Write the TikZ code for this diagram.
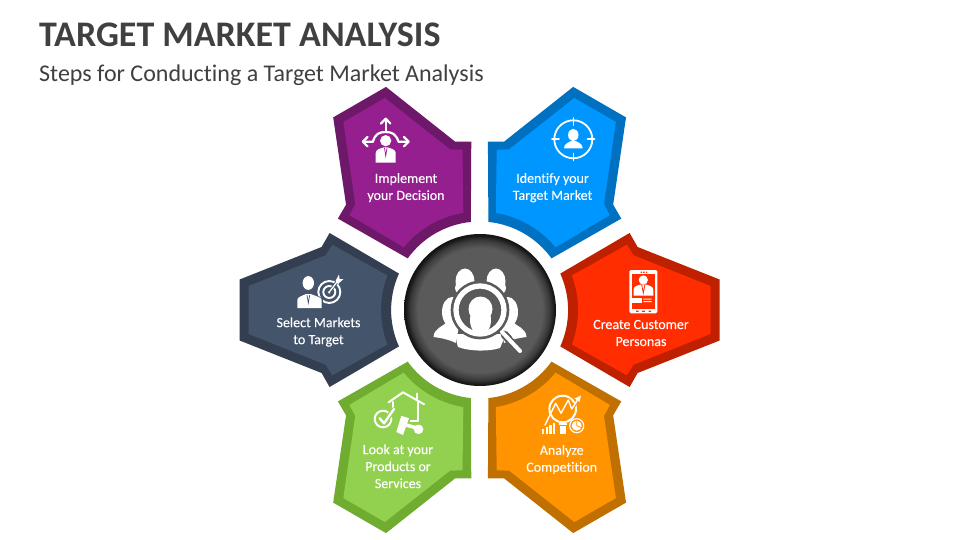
\documentclass[tikz,border=0pt]{standalone}
\usepackage{fontspec}
\setmainfont{Carlito}[Ligatures=NoCommon]
\newfontfamily\lblfont{Carlito}[Ligatures=NoCommon,FakeBold=0.12]
\definecolor{hubgray}{HTML}{5A5A5A}
\definecolor{hubmid}{HTML}{3A3A3A}
\definecolor{inkgray}{HTML}{404040}
\definecolor{purpleA}{HTML}{951F8E}\definecolor{purpleB}{HTML}{6D1868}
\definecolor{blueA}{HTML}{0096FF}\definecolor{blueB}{HTML}{0070C0}
\definecolor{redA}{HTML}{FF2D00}\definecolor{redB}{HTML}{BE2000}
\definecolor{navyA}{HTML}{44546A}\definecolor{navyB}{HTML}{333F50}
\definecolor{greenA}{HTML}{92D050}\definecolor{greenB}{HTML}{6FAC2F}
\definecolor{orangeA}{HTML}{FF9300}\definecolor{orangeB}{HTML}{BF7000}
\pgfdeclareradialshading{hubshade}{\pgfpoint{0bp}{0bp}}{color(0bp)=(hubgray); color(20.5bp)=(hubgray); color(23bp)=(hubmid); color(24.6bp)=(black!92); color(25bp)=(black!92); color(50bp)=(black!92)}
\tikzset{
  lbl/.style={text=white,align=center,inner sep=0pt,font=\lblfont\fontsize{14}{17}\selectfont},
  ico/.style={fill=white,draw=none},
  icl/.style={draw=white,line cap=round,line join=round,fill=none},
}
\newcommand{\petal}[3]{%
  \begin{scope}[shift={(479.6,310)},y=1pt,rotate=#1]
    \fill[#2] (24.3:88.5) -- (150,77) -- (158,63) -- (240,30.5) -- (240,-30.5) -- (158,-63) -- (150,-77) -- (-24.3:88.5) arc[start angle=-24.3,end angle=24.3,radius=88.5] -- cycle;
    \fill[#3] (20.5:98.5) -- (147.3,65.3) -- (154,54.7) -- (231,24) -- (231,-24) -- (154,-54.7) -- (147.3,-65.3) -- (-20.5:98.5) arc[start angle=-20.5,end angle=20.5,radius=98.5] -- cycle;
  \end{scope}}
\begin{document}
\begin{tikzpicture}[x=1pt,y=-1pt]
\useasboundingbox (0,0) rectangle (960,540);
\fill[white] (0,0) rectangle (960,540);
\node[anchor=base west,inner sep=0pt,text=inkgray,font=\fontsize{36}{36}\selectfont\bfseries] (title) at (39,46.2) {TARGET MARKET ANALYSIS};
\node[anchor=base west,inner sep=0pt,text=inkgray,font=\fontsize{24}{24}\selectfont] (subtitle) at (39,82) {Steps for Conducting a Target Market Analysis};
\petal{0}{redB}{redA}
\petal{60}{blueB}{blueA}
\petal{120}{purpleB}{purpleA}
\petal{180}{navyB}{navyA}
\petal{240}{greenB}{greenA}
\petal{300}{orangeB}{orangeA}
\node[circle,minimum size=152pt,inner sep=0pt,shading=hubshade] (hub) at (480,310) {};
% hub icon
\begin{scope}[shift={(480,310)},y=1pt]
  \fill[white] (-15,28.5) ellipse[x radius=9.5,y radius=13];
  \fill[white] (-15,22) ellipse[x radius=10,y radius=8];
  \fill[white] (16,28.5) ellipse[x radius=9.5,y radius=13];
  \fill[white] (16,22) ellipse[x radius=10,y radius=8];
  \fill[white] (-28,-2) ellipse[x radius=10,y radius=15];
  \fill[white] (-33,-12) .. controls (-36,-16) and (-46,-18) .. (-46.5,-27) .. controls (-38,-28) and (-30,-30) .. (-24,-33) -- (-20,-10) -- cycle;
  \fill[white] (28,-2) ellipse[x radius=10,y radius=15];
  \fill[white] (33,-12) .. controls (36,-16) and (46,-18) .. (46.5,-27) .. controls (38,-28) and (30,-30) .. (24,-33) -- (20,-10) -- cycle;
  \fill[white] (-23,-24) .. controls (-24,-30) and (-23,-34) .. (-22,-37) .. controls (-12,-41) and (8,-42) .. (20,-38) -- (26,-24) -- cycle;
  \fill[hubgray] (0,0) circle[radius=29.3];
  \draw[white,line width=5.3pt] (0,0) circle[radius=24];
  \fill[white] (0.5,1) ellipse[x radius=12,y radius=12.5];
  \fill[white] (0.5,-10) ellipse[x radius=10.5,y radius=15];
  \draw[hubgray,line width=8pt] (24,-24) -- (29,-29.5);
  \draw[hubgray,line width=7pt,line cap=round] (24,-24) -- (40,-41);
  \draw[white,line width=4pt,line cap=round] (22,-22) -- (40,-41);
\end{scope}
% purple icon
\fill[ico] (385.7,140.7) circle[radius=5.6];
\fill[ico] (375.7,162.7) -- (375.7,153) .. controls (375.7,149.5) and (380,148.5) .. (384,147.3) -- (387.5,147.3) .. controls (391,148.5) and (395.7,149.5) .. (395.7,153) -- (395.7,162.7) -- cycle;
\draw[purpleA,line width=0.7pt] (384.5,148) -- (385.7,156) -- (387,148);
\begin{scope}[icl,line width=2.2pt]
  \draw (363,141.7) -- (373,141.7) .. controls (375,134) and (379,132) .. (385.7,132) .. controls (392,132) and (396,134) .. (398.5,141.7) -- (408.5,141.7);
  \draw (385.7,132) -- (385.7,119);
  \draw (381,123.5) -- (385.7,118.7) -- (390.4,123.5);
  \draw (367.5,137) -- (362.8,141.7) -- (367.5,146.4);
  \draw (404,137) -- (408.7,141.7) -- (404,146.4);
\end{scope}
% blue icon
\draw[white,line width=1.8pt] (573.3,139.3) circle[radius=19];
\draw[icl,line width=1.6pt] (573.3,118) -- (573.3,125) (573.3,153.5) -- (573.3,160.5) (552,139.3) -- (559,139.3) (587.5,139.3) -- (594.5,139.3);
\fill[ico] (573.3,135) ellipse[x radius=5.2,y radius=6.2];
\fill[ico] (564,148.3) .. controls (564,144) and (568,142.5) .. (571,141) -- (575.5,141) .. controls (578.5,142.5) and (582.7,144) .. (582.7,148.3) -- cycle;
% navy icon
\draw[white,line width=1.9pt] (329.3,292) circle[radius=11];
\draw[white,line width=1.9pt] (329.3,292) circle[radius=6];
\fill[ico] (329.3,292) circle[radius=1.8];
\draw[navyA,line width=3pt] (329.3,292) -- (338.5,280);
\draw[icl,line width=1.3pt] (329.3,292) -- (338.5,280);
\fill[ico] (335.5,281) -- (339,274.5) -- (339.5,278.5) -- (339.5,279.2) -- (343.5,279) -- (338,284) -- cycle;
\fill[navyA] (308.3,283) ellipse[x radius=7.2,y radius=8.2];
\fill[navyA] (295.5,309) -- (295.5,299) -- (303,292.5) -- (313.5,292.5) -- (323,299) -- (323,309) -- cycle;
\fill[ico] (308.3,283) ellipse[x radius=5.7,y radius=6.9];
\fill[ico] (297.3,308) -- (297.3,300) .. controls (297.3,297) and (302,296) .. (306,294) -- (310.5,294) .. controls (315,296) and (321.7,297) .. (321.7,300) -- (321.7,308) -- cycle;
\draw[navyA,line width=0.7pt] (307,295) -- (308.3,303) -- (309.7,295);
% green icon
\draw[icl,line width=2pt] (388.7,402.3) -- (403,392.3) -- (424,404.3);
\draw[icl,line width=2pt] (417,393.5) -- (417,399);
\draw[icl,line width=2pt] (393,402) -- (393,407);
\draw[icl,line width=2pt] (418,402) -- (418,421) -- (410.5,421);
\draw[white,line width=2pt] (383,419) circle[radius=8.3];
\draw[greenA,line width=5pt,line join=round] (379.7,418.3) -- (384,423.3) -- (394,409);
\draw[icl,line width=2.4pt] (379.7,418.3) -- (384,423.3) -- (394,409);
\fill[greenA] (400,413) -- (411,417) -- (404,437) -- (394,433) -- cycle;
\fill[ico] (401.3,415.7) -- (409,418.3) -- (403,435) -- (396.3,432) -- cycle;
\draw[icl,line width=3.5pt] (406.3,425) -- (418,428.3);
\fill[ico] (418.5,429.3) circle[radius=4.8];
% orange icon
\draw[white,line width=2pt] (562.7,409) circle[radius=13.3];
\draw[orangeA,line width=3.6pt,line join=round] (552,410) -- (555.7,403.3) -- (561,413.3) -- (568.3,400) -- (571.7,409) -- (575,404);
\draw[icl,line width=1.4pt] (545,425) -- (555.7,403.3) -- (561,413.3) -- (568.3,400) -- (571.7,409) -- (578.5,398.5);
\fill[ico] (581,395.5) -- (579.5,402) -- (574.7,398.5) -- cycle;
\fill[ico] (558.5,423) rectangle (567,425.3);
\fill[ico] (560,426.2) rectangle (565.7,433.7);
\fill[ico] (542,429) rectangle (544.3,433.7);
\fill[ico] (545.6,427) rectangle (547.9,433.7);
\fill[ico] (549.2,424.5) rectangle (551.5,433.7);
\fill[ico] (552.8,422.5) rectangle (555.1,433.7);
\draw[white,line width=1.2pt] (576.7,425.7) circle[radius=7];
\fill[ico] (576.7,425.7) circle[radius=5];
\draw[orangeA,line width=0.7pt] (576.7,420.7) -- (576.7,425.7) -- (581.2,427.5);
% red icon
\fill[ico,rounded corners=1.5pt] (629.3,270) rectangle (657.3,313.3);
\fill[redA] (631.5,274.4) rectangle (655,309);
\fill[redA] (640.5,271.6) rectangle (642,272.8) (643.2,271.6) rectangle (644.7,272.8) (646,271.6) rectangle (647,272.8);
\fill[redA] (636,310.6) rectangle (638.5,311.8) (642,310.6) rectangle (645,311.8) (648.5,310.6) rectangle (651,311.8);
\fill[ico] (643.3,280) circle[radius=4.6];
\fill[ico] (633.5,295.5) -- (633.5,290) .. controls (633.5,286.5) and (637,285.5) .. (640.5,284.5) -- (646,284.5) .. controls (649.5,285.5) and (653.3,286.5) .. (653.3,290) -- (653.3,295.5) -- cycle;
\draw[redA,line width=0.8pt] (641.8,285) -- (643.3,293) -- (644.8,285);
\fill[ico] (631.7,298.3) rectangle (641.7,302.7);
\fill[ico] (643.3,298.5) rectangle (651.7,299.5) (643.3,301.2) rectangle (651.7,302.2);
% labels
\node[lbl] (implement) at (406,187.7) {Implement\\your Decision};
\node[lbl] (identify) at (552.5,187.7) {Identify your\\Target Market};
\node[lbl] (select) at (318.5,332) {Select Markets\\to Target};
\node[lbl] (create) at (641,333) {Create Customer\\Personas};
\node[lbl] (look) at (398,466.3) {Look at your\\Products or\\Services};
\node[lbl] (analyze) at (561.7,459.5) {Analyze\\Competition};
\end{tikzpicture}
\end{document}
